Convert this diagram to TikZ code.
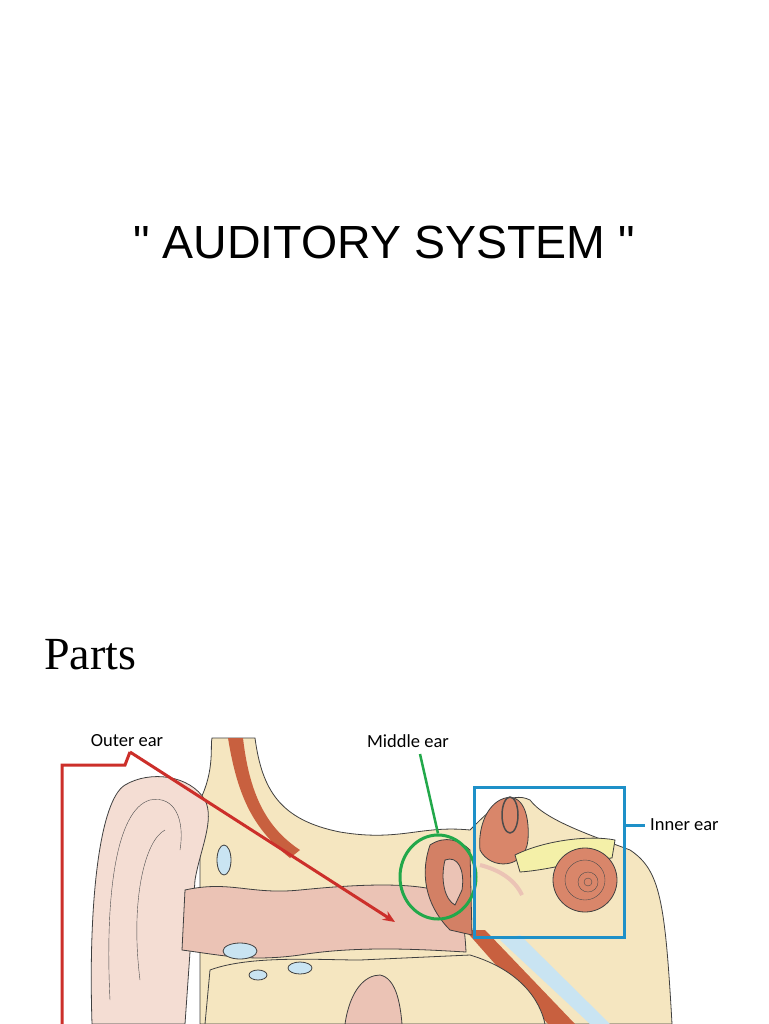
\documentclass[tikz,border=0pt]{standalone}
\usepackage{fontspec}
\setmainfont{Liberation Serif}
\newfontfamily\titlefont{Liberation Sans}
\newfontfamily\labfont{Carlito}
\usetikzlibrary{arrows.meta,shapes.geometric}
\definecolor{tan}{HTML}{F5E6C0}
\definecolor{pinkskin}{HTML}{F4DDD3}
\definecolor{canal}{HTML}{EBC3B5}
\definecolor{vessel}{HTML}{C8603F}
\definecolor{organ}{HTML}{D9866A}
\definecolor{fluid}{HTML}{C9E4F2}
\definecolor{nerve}{HTML}{F4F0A8}
\definecolor{redline}{HTML}{CC2F2A}
\definecolor{greenline}{HTML}{22A84A}
\definecolor{blueline}{HTML}{1E90C8}
\tikzset{
 outl/.style={draw=black!75, line width=0.8pt},
 lab/.style={font=\labfont\fontsize{18.5}{20}\selectfont, inner sep=0pt},
 ann/.style={line width=3pt}
}
\begin{document}
\begin{tikzpicture}[x=1pt,y=-1pt]
\useasboundingbox (0,0) rectangle (768,1024);
\fill[white] (0,0) rectangle (768,1024);
\node[font=\titlefont\fontsize{46.5}{52}\selectfont] (title) at (384,242) {" AUDITORY SYSTEM "};
\node[font=\fontsize{46}{52}\selectfont, anchor=west, inner sep=0pt] (parts) at (44,655) {Parts};
\begin{scope}
\clip (0,730) rectangle (768,1024);
\fill[tan, outl] (200,800) .. controls (215,770) and (210,745) .. (212,738) -- (255,738) .. controls (262,790) and (280,820) .. (340,832)
 .. controls (400,842) and (420,825) .. (470,830) .. controls (490,810) and (510,790) .. (530,800)
 .. controls (545,820) and (590,835) .. (630,850) .. controls (660,870) and (665,900) .. (672,1024) -- (200,1024) -- cycle;
\fill[vessel] (228,738) -- (243,738) .. controls (250,800) and (270,830) .. (300,850) -- (290,858) .. controls (255,830) and (238,800) .. (228,738) -- cycle;
\fill[vessel] (465,930) -- (485,930) -- (575,1024) -- (548,1024) -- cycle;
\fill[fluid] (500,940) -- (520,935) -- (610,1024) -- (590,1024) -- cycle;
\fill[pinkskin, outl] (92,1024) .. controls (88,900) and (100,800) .. (125,785) .. controls (150,770) and (190,775) .. (205,800)
 .. controls (215,820) and (200,850) .. (195,880) -- (185,1024) -- cycle;
\draw[black!70] (110,1000) .. controls (105,900) and (115,810) .. (150,800) .. controls (175,795) and (185,820) .. (180,850);
\draw[black!70] (140,980) .. controls (130,900) and (145,840) .. (165,830);
\fill[tan, outl] (210,970) .. controls (250,955) and (320,960) .. (360,960) -- (470,955) .. controls (520,970) and (540,1000) .. (545,1024) -- (205,1024) -- cycle;
\fill[canal, outl] (345,1024) .. controls (350,990) and (365,975) .. (380,975) .. controls (395,978) and (400,1000) .. (402,1024) -- cycle;
\fill[canal, outl] (185,890) .. controls (230,880) and (250,895) .. (300,890) .. controls (350,885) and (420,880) .. (450,895)
 .. controls (462,905) and (465,930) .. (466,952) .. controls (430,950) and (360,945) .. (300,955)
 .. controls (250,962) and (220,955) .. (182,950) -- cycle;
\fill[fluid, outl] (224,860) ellipse (7 and 15);
\fill[fluid, outl] (240,951) ellipse (17 and 8);
\fill[fluid, outl] (300,968) ellipse (12 and 6);
\fill[fluid, outl] (258,975) ellipse (9 and 5);
\fill[vessel!80, outl] (430,845) .. controls (445,835) and (460,840) .. (470,850) -- (472,935) -- (450,930) .. controls (430,910) and (418,880) .. (430,845) -- cycle;
\fill[canal, outl] (445,860) .. controls (458,855) and (465,870) .. (462,890) -- (455,905) .. controls (445,900) and (440,880) .. (445,860) -- cycle;
\fill[organ, outl] (500,800) .. controls (520,790) and (530,810) .. (528,840) .. controls (525,870) and (490,870) .. (480,850) .. controls (478,830) and (485,808) .. (500,800) -- cycle;
\draw[black!70, line width=1.5pt] (510,815) ellipse (8 and 18);
\fill[nerve, outl] (515,855) .. controls (545,840) and (590,835) .. (615,840) -- (612,858) .. controls (580,860) and (550,870) .. (520,872) -- cycle;
\fill[organ, outl] (585,880) circle (32);
\draw[black!70] (585,880) circle (20);
\draw[black!70] (588,882) circle (10);
\draw[black!70] (588,882) circle (4);
\draw[canal, line width=4pt] (480,865) .. controls (500,870) and (515,880) .. (522,895);
\end{scope}
\node[lab] (outer) at (127,741) {Outer ear};
\node[lab] (middle) at (408,741) {Middle ear};
\node[lab, anchor=west] (inner) at (650,825) {Inner ear};
\coordinate (rstart) at (62,1024);
\coordinate (rtip) at (130,752);
\coordinate (rend) at (395,922);
\draw[redline, ann] (rstart) -- (62,765) -- (125,765) -- (rtip);
\draw[redline, ann, -{Stealth[length=12pt,width=10pt]}] (rtip) -- (rend);
\node[draw=greenline, line width=3pt, ellipse, minimum width=76pt, minimum height=84pt, inner sep=0pt] (mid) at (438,877) {};
\coordinate (gtop) at (420,754);
\draw[greenline, line width=2.5pt] (gtop) -- (mid.north);
\node[draw=blueline, line width=3pt, minimum width=150pt, minimum height=150pt, inner sep=0pt] (inbox) at (549,862) {};
\draw[blueline, ann] (inbox.east |- inner.west) -- ([xshift=-5pt]inner.west);
\end{tikzpicture}
\end{document}
